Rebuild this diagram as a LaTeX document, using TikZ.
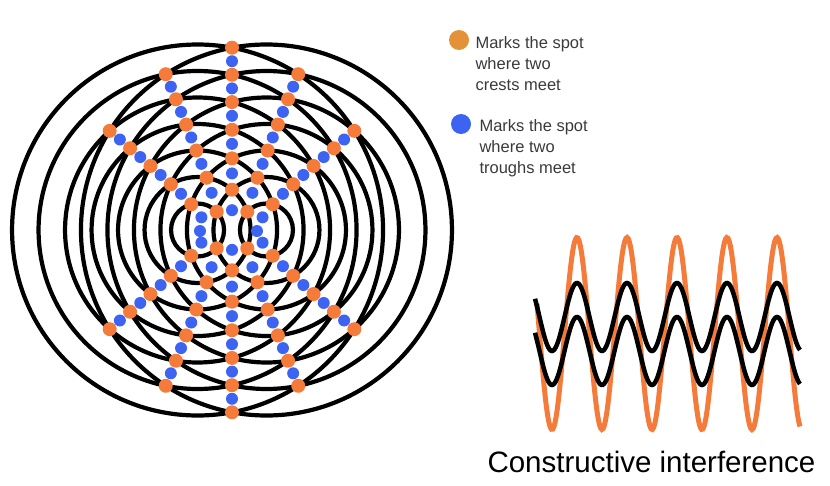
\documentclass[tikz,border=0pt]{standalone}
\usepackage{fontspec}
\setmainfont{Liberation Sans}
\usetikzlibrary{positioning}
\definecolor{crest}{HTML}{F47B3A}
\definecolor{trough}{HTML}{3D63F2}
\definecolor{legcrest}{HTML}{E4923A}
\definecolor{legtext}{HTML}{3A3A3A}
\newcommand\lam{26.5}
\newcommand\sep{1.3}
\tikzset{
	ring/.style = {line width=4.2pt, draw=black},
	crestdot/.style = {circle, fill=crest, inner sep=0pt, minimum size=14pt},
	troughdot/.style = {circle, fill=trough, inner sep=0pt, minimum size=12pt},
	legend/.style = {anchor=north west, align=left, text=legtext, font=\fontsize{16.5}{21}\selectfont},
	bigwave/.style = {line width=5pt, draw=crest},
	smallwave/.style = {line width=4.5pt, draw=black}
}

\begin{document}
\begin{tikzpicture}[x=1pt, y=-1pt]
\useasboundingbox (0,0) rectangle (830,485);
% Rings of the two sources
\foreach \n in {1,...,7}{
	\draw [ring] ({232-\sep*\lam},230) circle ({\n*\lam});
	\draw [ring] ({232+\sep*\lam},230) circle ({\n*\lam});
}

% Crest meets crest
\foreach \n in {1,...,7}{
	\foreach \m in {1,...,7}{
		\pgfmathsetmacro\xx{(\n*\n-\m*\m)/(4*\sep)}
		\pgfmathsetmacro\yy{\n*\n-(\xx+\sep)^2}
		\pgfmathtruncatemacro\ok{(\yy>0)&&(abs(\n-\m)<=2)}
		\ifnum\ok=1
			\pgfmathsetmacro\yy{sqrt(\yy)}
			\node (c-\n-\m-t) [crestdot] at ({232+\xx*\lam},{230-\yy*\lam}) {};
			\node (c-\n-\m-b) [crestdot] at ({232+\xx*\lam},{230+\yy*\lam}) {};
		\fi
	}
}

% Trough meets trough
\foreach \n in {1,...,7}{
	\foreach \m in {1,...,7}{
		\pgfmathsetmacro\xx{((\n-0.5)^2-(\m-0.5)^2)/(4*\sep)}
		\pgfmathsetmacro\yy{(\n-0.5)^2-(\xx+\sep)^2}
		\pgfmathtruncatemacro\ok{(\yy>0)&&(abs(\n-\m)<=2)}
		\ifnum\ok=1
			\pgfmathsetmacro\yy{sqrt(\yy)}
			\node (t-\n-\m-t) [troughdot] at ({232+\xx*\lam},{230-\yy*\lam}) {};
			\node (t-\n-\m-b) [troughdot] at ({232+\xx*\lam},{230+\yy*\lam}) {};
		\fi
	}
}
\node (srcL) [troughdot] at (200,231) {};
\node (srcR) [troughdot] at (257,231) {};

% Legend
\node (legC) [circle, fill=legcrest, minimum size=20pt, inner sep=0pt] at (459,40) {};
\node (legCtext) [legend] at (472,33) {Marks the spot\\where two\\crests meet};
\node (legT) [circle, fill=trough, minimum size=20pt, inner sep=0pt] at (461,124) {};
\node (legTtext) [legend] at (476,116) {Marks the spot\\where two\\troughs meet};

% Waves
\draw [bigwave] plot[domain=537:800, samples=220] (\x,{333.5-96*cos(7.2*(\x-577))});
\draw [smallwave] plot[domain=535:800, samples=220] (\x,{317-34*cos(7.2*(\x-577))});
\draw [smallwave] plot[domain=535:800, samples=220] (\x,{351-34*cos(7.2*(\x-577))});
\node (caption) [anchor=base west, font=\fontsize{29.5}{32}\selectfont] at (484,472) {Constructive interference};
\end{tikzpicture}
\end{document}
